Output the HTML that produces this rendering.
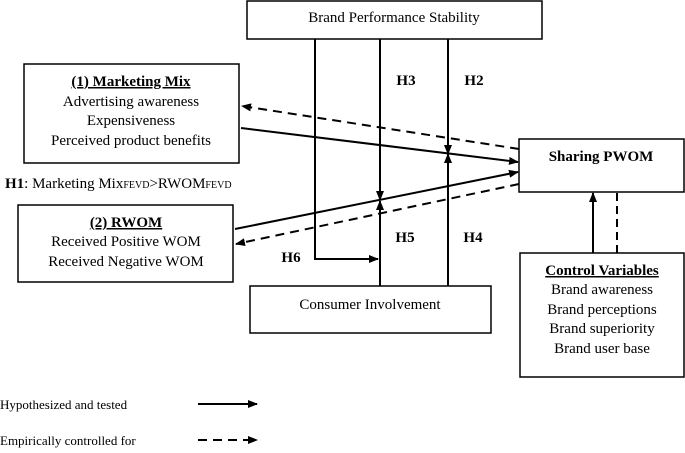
<!DOCTYPE html>
<html><head><meta charset="utf-8"><style>
html,body{margin:0;padding:0;background:#fff;}
svg{display:block;font-family:"Liberation Serif",serif;}
</style></head><body>
<svg width="685" height="453" viewBox="0 0 685 453" xmlns="http://www.w3.org/2000/svg">
<defs>
<marker id="a" markerWidth="10" markerHeight="8" refX="9" refY="4" orient="auto" markerUnits="userSpaceOnUse"><path d="M0,0 L10,4 L0,8 z" fill="#000"/></marker>
</defs>
<g fill="none" stroke="#000" stroke-width="1.5">
<rect x="247" y="1" width="295" height="38"/>
<rect x="24" y="64" width="215" height="99"/>
<rect x="519" y="139" width="165" height="53"/>
<rect x="18" y="205" width="215" height="77"/>
<rect x="250" y="286" width="241" height="47"/>
<rect x="520" y="253" width="164" height="124"/>
</g>
<g stroke="#000" stroke-width="2" fill="none">
<polyline points="315,39 315,259 378,259" marker-end="url(#a)"/>
<line x1="380" y1="39" x2="380" y2="200" marker-end="url(#a)"/>
<line x1="380" y1="286" x2="380" y2="201" marker-end="url(#a)"/>
<line x1="448" y1="39" x2="448" y2="154" marker-end="url(#a)"/>
<line x1="448" y1="286" x2="448" y2="154" marker-end="url(#a)"/>
<line x1="241" y1="128" x2="518" y2="162" marker-end="url(#a)"/>
<line x1="235" y1="229" x2="518" y2="172" marker-end="url(#a)"/>
<line x1="519" y1="149" x2="242" y2="106" stroke-dasharray="9,6" marker-end="url(#a)"/>
<line x1="519" y1="184" x2="236" y2="244" stroke-dasharray="9,6" marker-end="url(#a)"/>
<line x1="593" y1="253" x2="593" y2="193" marker-end="url(#a)"/>
<line x1="617" y1="193" x2="617" y2="253" stroke-dasharray="8,5"/>
<line x1="198" y1="404" x2="257" y2="404" marker-end="url(#a)"/>
<line x1="198" y1="440" x2="257" y2="440" stroke-dasharray="9,6" marker-end="url(#a)"/>
</g>
<g font-size="15" text-anchor="middle" fill="#000">
<text x="394" y="22">Brand Performance Stability</text>
<text x="131" y="86" font-weight="bold" text-decoration="underline">(1) Marketing Mix</text>
<text x="131" y="106">Advertising awareness</text>
<text x="131" y="125">Expensiveness</text>
<text x="131" y="145">Perceived product benefits</text>
<text x="601" y="161" font-weight="bold">Sharing PWOM</text>
<text x="126" y="227" font-weight="bold" text-decoration="underline">(2) RWOM</text>
<text x="126" y="246">Received Positive WOM</text>
<text x="126" y="266">Received Negative WOM</text>
<text x="370" y="309">Consumer Involvement</text>
<text x="602" y="275" font-weight="bold" text-decoration="underline">Control Variables</text>
<text x="602" y="294">Brand awareness</text>
<text x="602" y="314">Brand perceptions</text>
<text x="602" y="333">Brand superiority</text>
<text x="602" y="353">Brand user base</text>
<g font-weight="bold">
<text x="406" y="85">H3</text>
<text x="474" y="85">H2</text>
<text x="405" y="242">H5</text>
<text x="473" y="242">H4</text>
<text x="291" y="262">H6</text>
</g>
</g>
<text x="5" y="188" font-size="15"><tspan font-weight="bold">H1</tspan>: Marketing Mix<tspan font-size="10">FEVD</tspan>&gt;RWOM<tspan font-size="10">FEVD</tspan></text>
<text x="0" y="409" font-size="13">Hypothesized and tested</text>
<text x="0" y="445" font-size="13">Empirically controlled for</text>
</svg>
</body></html>
